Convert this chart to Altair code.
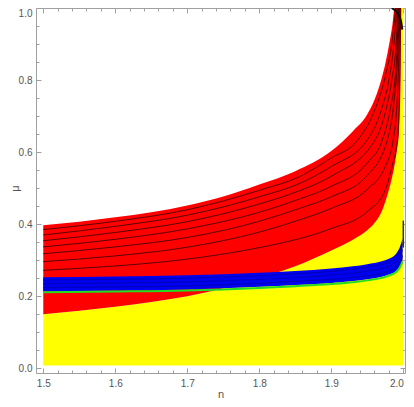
import altair as alt
import pandas as pd

# ---- data ----
# red region: lower boundary (yellow top) and upper boundary
n_red = [1.5, 1.55, 1.6, 1.65, 1.7, 1.75, 1.8, 1.85, 1.9, 1.93, 1.95, 1.96, 1.97,
         1.975, 1.98, 1.985, 1.988, 1.99, 1.992, 1.994, 1.995, 1.996, 1.9965, 1.997]
red_top = [0.397, 0.407, 0.419, 0.433, 0.452, 0.477, 0.510, 0.547, 0.603, 0.658, 0.705,
           0.745, 0.805, 0.845, 0.895, 0.955, 1.0, 1.0, 1.0, 1.0, 1.0, 1.0, 1.0, 1.0]
red_bottom = [0.150, 0.160, 0.171, 0.184, 0.200, 0.222, 0.250, 0.283, 0.327, 0.357, 0.383,
              0.403, 0.435, 0.462, 0.495, 0.535, 0.565, 0.590, 0.618, 0.655, 0.700, 0.780,
              0.860, 1.0]

# yellow region
n_yellow = n_red + [2.0]
yellow_top = red_bottom + [1.0]
yellow_bottom = 0.008

# blue band
n_blue = [1.5, 1.6, 1.7, 1.75, 1.8, 1.85, 1.9, 1.93, 1.95, 1.97, 1.98, 1.99, 1.995, 1.999]
blue_bottom = [0.214, 0.216, 0.219, 0.222, 0.226, 0.231, 0.237, 0.242, 0.247, 0.254, 0.260, 0.270, 0.282, 0.300]
blue_top = [0.253, 0.255, 0.258, 0.261, 0.265, 0.270, 0.277, 0.283, 0.289, 0.297, 0.304, 0.318, 0.335, 0.360]
blue_streak1 = [0.224, 0.226, 0.229, 0.232, 0.236, 0.241, 0.247, 0.252, 0.257, 0.264, 0.270, 0.281, 0.294, 0.313]
blue_streak2 = [0.235, 0.237, 0.240, 0.243, 0.247, 0.252, 0.259, 0.264, 0.270, 0.277, 0.284, 0.296, 0.310, 0.330]
blue_streak3 = [0.245, 0.247, 0.250, 0.253, 0.257, 0.262, 0.269, 0.275, 0.281, 0.289, 0.296, 0.309, 0.325, 0.347]
green_line = [0.211, 0.213, 0.216, 0.219, 0.223, 0.228, 0.234, 0.239, 0.244, 0.251, 0.257, 0.267, 0.279, 0.297]

# contour lines inside the red region
contour_n = [
    [1.5, 1.6, 1.7, 1.8, 1.856, 1.9, 1.937, 1.96, 1.975, 1.985, 1.9895],
    [1.5, 1.6, 1.7, 1.8, 1.856, 1.9, 1.95, 1.97, 1.98, 1.987, 1.991],
    [1.5, 1.6, 1.7, 1.8, 1.856, 1.9, 1.961, 1.975, 1.984, 1.99, 1.9925],
    [1.5, 1.6, 1.7, 1.8, 1.856, 1.9, 1.95, 1.971, 1.982, 1.99, 1.9935],
    [1.5, 1.6, 1.7, 1.8, 1.856, 1.9, 1.95, 1.978, 1.987, 1.992, 1.9945],
    [1.5, 1.6, 1.7, 1.8, 1.856, 1.9, 1.95, 1.975, 1.986, 1.992, 1.9955],
    [1.5, 1.6, 1.7, 1.8, 1.856, 1.9, 1.95, 1.975, 1.985, 1.992, 1.995, 1.9965],
]
contour_mu = [
    [0.385, 0.408, 0.440, 0.494, 0.532, 0.584, 0.634, 0.715, 0.810, 0.915, 1.0],
    [0.370, 0.394, 0.425, 0.476, 0.513, 0.560, 0.634, 0.720, 0.800, 0.900, 1.0],
    [0.354, 0.377, 0.407, 0.456, 0.493, 0.533, 0.634, 0.710, 0.800, 0.900, 1.0],
    [0.337, 0.358, 0.387, 0.433, 0.470, 0.505, 0.570, 0.634, 0.720, 0.840, 1.0],
    [0.318, 0.337, 0.363, 0.408, 0.444, 0.476, 0.535, 0.634, 0.740, 0.860, 1.0],
    [0.296, 0.312, 0.336, 0.378, 0.412, 0.444, 0.497, 0.560, 0.634, 0.760, 1.0],
    [0.272, 0.284, 0.303, 0.335, 0.360, 0.388, 0.435, 0.495, 0.565, 0.634, 0.780, 1.0],
]

# black marks near n = 2
spike_n = [2.0, 2.0]
spike_mu = [0.335, 0.41]
arc_n = [1.984, 1.990, 1.995, 1.998, 1.9985]
arc_mu = [1.0, 0.99, 0.975, 0.95, 0.94]

# axis ticks
x_major = [1.5, 1.6, 1.7, 1.8, 1.9, 2.0]
x_ticks = [round(1.5 + 0.02 * i, 2) for i in range(26)]
y_major = [0.0, 0.2, 0.4, 0.6, 0.8, 1.0]
y_ticks = [round(0.05 * i, 2) for i in range(21)]

# ---- layout ----
W, H = 369, 365
xs = alt.Scale(domain=[1.4899, 2.00236], nice=False, zero=False)
ys = alt.Scale(domain=[-0.0131, 1.0], nice=False, zero=False)
AXC = "#a0a0a0"
LABC = "#555555"
FONT = "Liberation Sans"

x_tick_size = {"condition": {"test": "abs(datum.value*10 - round(datum.value*10)) < 0.001", "value": 5}, "value": 3}
y_tick_size = {"condition": {"test": "abs(datum.value*5 - round(datum.value*5)) < 0.001", "value": 5}, "value": 3}


def tick_axis(orient, offset, values, size):
    return alt.Axis(orient=orient, offset=offset, values=values, tickSize=size,
                    labels=False, domain=False, grid=False, title=None,
                    tickColor=AXC, tickWidth=1)


yellow_df = pd.DataFrame({"n": n_yellow, "lo": [yellow_bottom] * len(n_yellow), "hi": yellow_top})
yellow = alt.Chart(yellow_df).mark_area(color="#ffff00", interpolate="monotone").encode(
    x=alt.X("n:Q", scale=xs,
            axis=alt.Axis(orient="bottom", values=x_major, format=".1f", ticks=False, domain=False,
                          grid=False, labelPadding=5, labelFlush=3, labelFont=FONT, labelFontSize=10,
                          labelColor=LABC, title="n", titleFont=FONT, titleFontSize=11,
                          titleFontWeight="normal", titleColor=LABC, titleY=21, titleBaseline="middle")),
    y=alt.Y("lo:Q", scale=ys,
            axis=alt.Axis(orient="left", values=y_major, format=".1f", ticks=False, domain=False,
                          grid=False, labelPadding=4, labelFlush=1, labelFont=FONT, labelFontSize=10,
                          labelColor=LABC, title="μ", titleFont=FONT, titleFontSize=11,
                          titleFontWeight="normal", titleColor=LABC, titleAngle=270, titleX=-21,
                          titleY=180, titleAlign="center", titleBaseline="middle")),
    y2="hi:Q",
)

red_df = pd.DataFrame({"n": n_red, "lo": red_bottom, "hi": red_top})
red = alt.Chart(red_df).mark_area(color="#ff0000", interpolate="monotone").encode(
    x=alt.X("n:Q", scale=xs, axis=tick_axis("top", -H, x_ticks, x_tick_size)),
    y=alt.Y("lo:Q", scale=ys, axis=tick_axis("right", -W, y_ticks, y_tick_size)),
    y2="hi:Q",
)

rows = []
for k, (ns, ms) in enumerate(zip(contour_n, contour_mu)):
    for a, b in zip(ns, ms):
        rows.append({"n": a, "mu": b, "k": k})
contour_df = pd.DataFrame(rows)
contours = alt.Chart(contour_df).mark_line(color="#2a0000", strokeWidth=0.9, opacity=0.85,
                                           interpolate="monotone", clip=True).encode(
    x=alt.X("n:Q", scale=xs, axis=tick_axis("bottom", -H, x_ticks, x_tick_size)),
    y=alt.Y("mu:Q", scale=ys, axis=tick_axis("left", -W, y_ticks, y_tick_size)),
    detail="k:N",
)

blue_df = pd.DataFrame({"n": n_blue, "lo": blue_bottom, "hi": blue_top, "g": green_line,
                        "s1": blue_streak1, "s2": blue_streak2, "s3": blue_streak3})
blue = alt.Chart(blue_df).mark_area(color="#0000f0", interpolate="monotone").encode(
    x=alt.X("n:Q", scale=xs, axis=None),
    y=alt.Y("lo:Q", scale=ys, axis=None),
    y2="hi:Q",
)
streaks = alt.Chart(blue_df).transform_fold(["s1", "s2", "s3"], as_=["s", "v"]).mark_line(
    color="#0000a8", strokeWidth=1.2, opacity=0.7, interpolate="monotone").encode(
    x=alt.X("n:Q", scale=xs, axis=None),
    y=alt.Y("v:Q", scale=ys, axis=None),
    detail="s:N",
)
green = alt.Chart(blue_df).mark_line(color="#22dd22", strokeWidth=2, interpolate="monotone").encode(
    x=alt.X("n:Q", scale=xs, axis=None),
    y=alt.Y("g:Q", scale=ys, axis=None),
)

spike = alt.Chart(pd.DataFrame({"n": spike_n, "mu": spike_mu})).mark_line(
    color="#333333", strokeWidth=1.5).encode(
    x=alt.X("n:Q", scale=xs, axis=None),
    y=alt.Y("mu:Q", scale=ys, axis=None),
)
arc = alt.Chart(pd.DataFrame({"n": arc_n, "mu": arc_mu})).mark_line(
    color="#111111", strokeWidth=2, interpolate="monotone").encode(
    x=alt.X("n:Q", scale=xs, axis=None),
    y=alt.Y("mu:Q", scale=ys, axis=None),
)

chart = alt.layer(yellow, red, contours, blue, streaks, green, spike, arc).resolve_axis(
    x="independent", y="independent"
).properties(
    width=W, height=H,
    autosize=alt.AutoSizeParams(type="none"),
    padding={"left": 28, "top": 0, "right": 1, "bottom": 26},
).configure_view(stroke=AXC, strokeWidth=1)

chart.save("out.html", embed_options={"renderer": "svg", "actions": False})
